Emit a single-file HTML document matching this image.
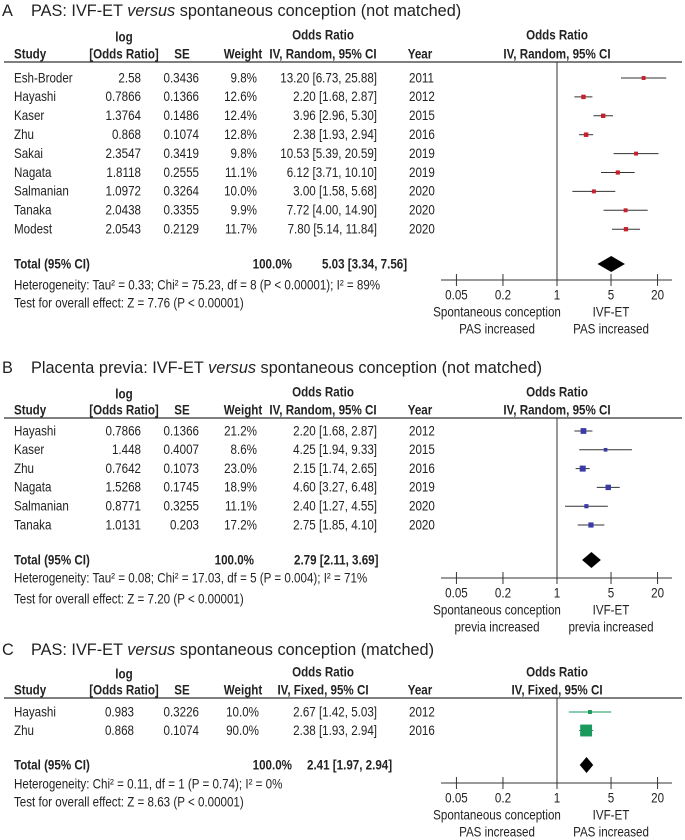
<!DOCTYPE html>
<html><head><meta charset="utf-8">
<style>
html,body{margin:0;padding:0;background:#fff;}
svg{display:block;}
text{font-family:"Liberation Sans",sans-serif;font-size:13.5px;fill:#222;}
.t{font-family:"Liberation Sans",sans-serif;font-size:16.3px;}
.b{font-weight:bold;}
</style></head>
<body>
<svg id="chart" width="685" height="840" viewBox="0 0 685 840" xmlns="http://www.w3.org/2000/svg"></svg>
<script>
// Panel A data
const aStudies=["Esh-Broder","Hayashi","Kaser","Zhu","Sakai","Nagata","Salmanian","Tanaka","Modest"];
const aLogOR=["2.58","0.7866","1.3764","0.868","2.3547","1.8118","1.0972","2.0438","2.0543"];
const aSE=["0.3436","0.1366","0.1486","0.1074","0.3419","0.2555","0.3264","0.3355","0.2129"];
const aWeight=[9.8,12.6,12.4,12.8,9.8,11.1,10.0,9.9,11.7];
const aOR=[13.20,2.20,3.96,2.38,10.53,6.12,3.00,7.72,7.80];
const aLo=[6.73,1.68,2.96,1.93,5.39,3.71,1.58,4.00,5.14];
const aHi=[25.88,2.87,5.30,2.94,20.59,10.10,5.68,14.90,11.84];
const aYear=["2011","2012","2015","2016","2019","2019","2020","2020","2020"];
const aTotal=[5.03,3.34,7.56];
// Panel B data
const bStudies=["Hayashi","Kaser","Zhu","Nagata","Salmanian","Tanaka"];
const bLogOR=["0.7866","1.448","0.7642","1.5268","0.8771","1.0131"];
const bSE=["0.1366","0.4007","0.1073","0.1745","0.3255","0.203"];
const bWeight=[21.2,8.6,23.0,18.9,11.1,17.2];
const bOR=[2.20,4.25,2.15,4.60,2.40,2.75];
const bLo=[1.68,1.94,1.74,3.27,1.27,1.85];
const bHi=[2.87,9.33,2.65,6.48,4.55,4.10];
const bYear=["2012","2015","2016","2019","2020","2020"];
const bTotal=[2.79,2.11,3.69];
// Panel C data
const cStudies=["Hayashi","Zhu"];
const cLogOR=["0.983","0.868"];
const cSE=["0.3226","0.1074"];
const cWeight=[10.0,90.0];
const cOR=[2.67,2.38];
const cLo=[1.42,1.93];
const cHi=[5.03,2.94];
const cYear=["2012","2016"];
const cTotal=[2.41,1.97,2.94];
const ticks=[0.05,0.2,1,5,20];

const NS="http://www.w3.org/2000/svg";
const svg=document.getElementById('chart');
const SX=0.86;
function el(tag,attrs,parent){const e=document.createElementNS(NS,tag);for(const k in attrs)e.setAttribute(k,attrs[k]);(parent||svg).appendChild(e);return e;}
function txt(s,x,y,anchor,cls,parent){const e=el('text',{x:0,y:0,transform:`translate(${x},${y}) scale(${SX},1)`,'text-anchor':anchor||'start','dominant-baseline':'central'},parent);if(cls)e.setAttribute('class',cls);e.textContent=s;return e;}
function ttl(s,x,y,parent){const e=el('text',{x:x,y:y,'dominant-baseline':'central','class':'t'},parent);e.textContent=s;return e;}
const X1=557, DEC=77.3;
function xs(v){return X1+Math.log10(v)*DEC;}
const f2=v=>v.toFixed(2);

function panel(cfg){
  const g=el('g',{});
  
  
  const L=ttl(cfg.letter,2,cfg.titleY,g);
  
  
  const T=el('text',{x:31,y:cfg.titleY,'dominant-baseline':'central','class':'t'},g);
  
  
  T.innerHTML=cfg.title[0]+'<tspan font-style="italic">versus</tspan>'+cfg.title[1];
  const h1=cfg.h1, h2=cfg.h2;
  const hg=el('g',{},g);
  
  
  txt('log',124,h1+2,'middle','b',hg);
  txt('Study',14,h2,'start','b',hg);
  txt('[Odds Ratio]',124,h2,'middle','b',hg);
  txt('SE',182,h2,'middle','b',hg);
  txt('Weight',243,h2,'middle','b',hg);
  txt('Odds Ratio',323,h1,'middle','b',hg);
  txt('IV, '+cfg.method+', 95% CI',323,h2,'middle','b',hg);
  txt('Year',420,h2,'middle','b',hg);
  txt('Odds Ratio',557,h1,'middle','b',hg);
  txt('IV, '+cfg.method+', 95% CI',557,h2,'middle','b',hg);
  const hl=el('line',{x1:4,x2:682,y1:cfg.line,y2:cfg.line,stroke:'#333','stroke-width':1.3},g);
  
  
  const vl=el('line',{x1:xs(1),x2:xs(1),y1:cfg.line,y2:cfg.axisY,stroke:'#333','stroke-width':1},g);
  
  
  cfg.studies.forEach((s,i)=>{
    const y=cfg.rowY[0]+i*cfg.rowStep;
    const r=el('g',{},g);
    
    
    txt(s,14,y,'start','',r);
    txt(cfg.logOR[i],cfg.colLog,y,'end','',r);
    txt(cfg.se[i],199,y,'end','',r);
    txt(cfg.weight[i].toFixed(1)+'%',cfg.colW,y,'end','',r);
    txt(f2(cfg.or[i])+' ['+f2(cfg.lo[i])+', '+f2(cfg.hi[i])+']',377,y,'end','',r);
    txt(cfg.year[i],409,y,'start','',r);
    const ci=el('line',{x1:xs(cfg.lo[i]),x2:xs(cfg.hi[i]),y1:y,y2:y,stroke:cfg.ciColor,'stroke-width':1},r);
    
    
    const sz=Math.max(3,1.25*Math.sqrt(cfg.weight[i]));
    const m=el('rect',{x:xs(cfg.or[i])-sz/2,y:y-sz/2,width:sz,height:sz,fill:cfg.color},r);
    
    
  });
  const tg=el('g',{},g);
  
  
  txt('Total (95% CI)',14,cfg.totalY,'start','b',tg);
  txt('100.0%',cfg.totW,cfg.totalY,'end','b',tg);
  txt(f2(cfg.total[0])+' ['+f2(cfg.total[1])+', '+f2(cfg.total[2])+']',cfg.totCI,cfg.totalY,'start','b',tg);
  const dy=cfg.totalY, dh=8;
  const d=el('polygon',{points:`${xs(cfg.total[1])},${dy} ${xs(cfg.total[0])},${dy-dh} ${xs(cfg.total[2])},${dy} ${xs(cfg.total[0])},${dy+dh}`,fill:'#000'},tg);
  
  
  const h=txt(cfg.het,14,cfg.hetY,'start','',g);
  
  
  const te=txt(cfg.test,14,cfg.hetY+cfg.testGap,'start','',g);
  
  
  const ax=el('g',{},g);
  
  
  el('line',{x1:441,x2:672,y1:cfg.axisY,y2:cfg.axisY,stroke:'#333','stroke-width':1},ax);
  ticks.forEach(t=>{
    el('line',{x1:xs(t),x2:xs(t),y1:cfg.axisY-6,y2:cfg.axisY+6,stroke:'#333','stroke-width':1},ax);
    txt(String(t),xs(t),cfg.axisY+15,'middle','',ax);
  });
  const lg=el('g',{},g);
  
  
  txt('Spontaneous conception',497,cfg.axisY+32,'middle','',lg);
  txt(cfg.lowLbl,497,cfg.axisY+49,'middle','',lg);
  txt('IVF-ET',611,cfg.axisY+32,'middle','',lg);
  txt(cfg.highLbl,611,cfg.axisY+49,'middle','',lg);
}

panel({letter:'A',title:['PAS: IVF-ET ',' spontaneous conception (not matched)'],titleY:11,h1:35,h2:54,line:62,method:'Random',
  studies:aStudies,logOR:aLogOR,se:aSE,weight:aWeight,or:aOR,lo:aLo,hi:aHi,year:aYear,total:aTotal,
  rowY:[78],rowStep:18.9,colLog:141,colW:257,color:'#c8202a',ciColor:'#333',
  totalY:264,totW:292,totCI:322,hetY:285,testGap:18,axisY:280,
  het:'Heterogeneity: Tau² = 0.33; Chi² = 75.23, df = 8 (P < 0.00001); I² = 89%',
  test:'Test for overall effect: Z = 7.76 (P < 0.00001)',lowLbl:'PAS increased',highLbl:'PAS increased'});
panel({letter:'B',title:['Placenta previa: IVF-ET ',' spontaneous conception (not matched)'],titleY:368,h1:392,h2:410,line:418,method:'Random',
  studies:bStudies,logOR:bLogOR,se:bSE,weight:bWeight,or:bOR,lo:bLo,hi:bHi,year:bYear,total:bTotal,
  rowY:[431],rowStep:18.8,colLog:141,colW:257,color:'#3b3aa6',ciColor:'#333',
  totalY:560,totW:254,totCI:294,hetY:578,testGap:21,axisY:578,
  het:'Heterogeneity: Tau² = 0.08; Chi² = 17.03, df = 5 (P = 0.004); I² = 71%',
  test:'Test for overall effect: Z = 7.20 (P < 0.00001)',lowLbl:'previa increased',highLbl:'previa increased'});
panel({letter:'C',title:['PAS: IVF-ET ',' spontaneous conception (matched)'],titleY:650,h1:672,h2:690,line:698,method:'Fixed',
  studies:cStudies,logOR:cLogOR,se:cSE,weight:cWeight,or:cOR,lo:cLo,hi:cHi,year:cYear,total:cTotal,
  rowY:[712],rowStep:18.5,colLog:134,colW:259,color:'#1a9a5c',ciColor:'#1a9a5c',
  totalY:765,totW:292,totCI:307,hetY:784,testGap:18,axisY:783,
  het:'Heterogeneity: Chi² = 0.11, df = 1 (P = 0.74); I² = 0%',
  test:'Test for overall effect: Z = 8.63 (P < 0.00001)',lowLbl:'PAS increased',highLbl:'PAS increased'});
</script>
</body></html>
